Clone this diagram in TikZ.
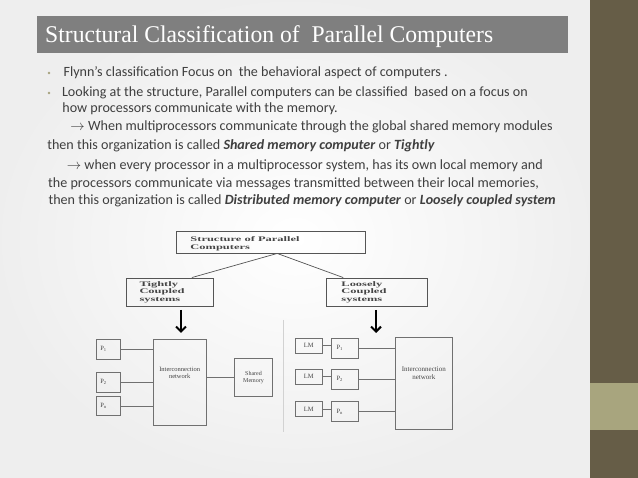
\documentclass[tikz,border=0pt]{standalone}
\usepackage{fontspec}
\usepackage{graphicx}
\setmainfont{Carlito}
\newfontfamily\titlefont{Liberation Serif}
\newfontfamily\diagfont[FakeStretch=1.78]{Liberation Serif}
\newfontfamily\labfont{Liberation Serif}
\usetikzlibrary{arrows.meta}
\definecolor{barbrown}{HTML}{665D47}
\definecolor{barlight}{HTML}{A8A57E}
\definecolor{titlegray}{HTML}{7F7F7F}
\definecolor{bodytext}{HTML}{3F3F3F}
\definecolor{bulletc}{HTML}{A6A27E}
\definecolor{dline}{HTML}{555555}
\definecolor{pline}{HTML}{707070}
\definecolor{ptext}{HTML}{454545}
\begin{document}
\begin{tikzpicture}[x=1pt,y=-1pt,
  body/.style={anchor=base east, inner sep=0pt, font=\fontsize{14.1}{16}\selectfont, text=bodytext},
  dbox/.style={draw=dline, line width=0.9pt, inner sep=0pt},
  dtext/.style={align=left, inner sep=0pt, anchor=west,
    font=\diagfont\bfseries\fontsize{7}{7.6}\selectfont, text=ptext},
  pbox/.style={draw=pline, line width=0.6pt, inner sep=0pt, align=center,
    font=\labfont\fontsize{6.5}{7.5}\selectfont, text=ptext},
  lab/.style={align=center, inner sep=0pt, font=\labfont\fontsize{6.5}{7.7}\selectfont, text=ptext},
  conn/.style={draw=pline, line width=0.6pt},
  tree/.style={draw=dline, line width=0.7pt},
  bigarrow/.style={line width=2.2pt, -{Straight Barb[length=5pt,width=10pt,line width=2pt]}},
  bulletdot/.style={fill=bulletc}
]
\useasboundingbox (0,0) rectangle (638,478);
% background
\shade[inner color=white, outer color=gray!13] (0,0) rectangle (590,478);
\fill[barbrown] (590,0) rectangle (638,478);
\fill[barlight] (590,383) rectangle (638,430);
% title
\fill[titlegray] (37.3,16) rectangle (568.3,52.7);
\node[anchor=base west, inner sep=0pt, text=white] (title) at (45,42.3)
  {\resizebox{448pt}{\height}{\titlefont\fontsize{24}{24}\selectfont Structural Classification of\ \ Parallel Computers}};
% bullets
\fill[bulletdot] (49,73) circle (1.4);
\fill[bulletdot] (49,93) circle (1.4);
% body text
\node[body] (l1) at (448,77) {Flynn’s classification Focus on\ \ the behavioral aspect of computers .};
\node[body] (l2) at (528,97) {Looking at the structure, Parallel computers can be classified\ \ based on a focus on};
\node[body] (l3) at (338,113) {how processors communicate with the memory.};
\node[body] (l4) at (553,131) {$\rightarrow$ When multiprocessors communicate through the global shared memory modules};
\node[body] (l5) at (435,150) {then this organization is called \textbf{\textit{Shared memory computer}} or \textbf{\textit{Tightly}}};
\node[body] (l6) at (543,170) {$\rightarrow$ when every processor in a multiprocessor system, has its own local memory and};
\node[body] (l7) at (539,188) {the processors communicate via messages transmitted between their local memories,};
\node[body] (l8) at (556,205) {then this organization is called \textbf{\textit{Distributed memory computer}} or \textbf{\textit{Loosely coupled system}}};
% tree
\node[dbox, minimum width=189, minimum height=22,
  label={[dtext, xshift=14pt, yshift=-1.5pt]west:{Structure of Parallel\\Computers}}] (top) at (271.2,242) {};
\node[dbox, minimum width=86.3, minimum height=28,
  label={[dtext, xshift=13pt]west:{Tightly\\Coupled\\systems}}] (tight) at (169.9,292) {};
\node[dbox, minimum width=101, minimum height=28,
  label={[dtext, xshift=15pt]west:{Loosely\\Coupled\\systems}}] (loose) at (377.2,292) {};
\draw[tree] ([xshift=6pt]top.south) -- ([xshift=22pt]tight.north);
\draw[tree] ([xshift=6pt]top.south) -- ([xshift=-34pt]loose.north);
\coordinate (ta) at (181,310);
\coordinate (tb) at (181,333);
\coordinate (la) at (376,310);
\coordinate (lb) at (376,333);
\draw[bigarrow] (ta) -- (tb);
\draw[bigarrow] (la) -- (lb);
% separator
\draw[gray!35, line width=0.6pt] (283,320) -- (283,432);
% left panel
\node[pbox, minimum width=24.7, minimum height=19.7, text width=16, align=left] (p1) at (108.3,349.2) {P\textsubscript{1}};
\node[pbox, minimum width=24.7, minimum height=19.3, text width=16, align=left] (p2) at (108.3,382.3) {P\textsubscript{2}};
\node[pbox, minimum width=24.7, minimum height=19, text width=16, align=left] (pn) at (108.3,406.2) {P\textsubscript{n}};
\node[pbox, minimum width=52.7, minimum height=86.4,
  label={[lab, yshift=9.5pt]center:Interconnection\\network}] (netl) at (179.7,382.5) {};
\node[pbox, minimum width=38.4, minimum height=38.4, font=\labfont\fontsize{6}{7.5}\selectfont] (sm) at (253.5,377.5) {Shared\\Memory};
\draw[conn] (p1.east) -- (p1.east -| netl.west);
\draw[conn] (p2.east) -- (p2.east -| netl.west);
\draw[conn] (pn.east) -- (pn.east -| netl.west);
\draw[conn] (netl.east |- sm.west) -- (sm.west);
% right panel
\node[pbox, minimum width=27.3, minimum height=15] (lm1) at (308.7,345.8) {LM};
\node[pbox, minimum width=27.3, minimum height=15] (lm2) at (308.7,376.8) {LM};
\node[pbox, minimum width=27.3, minimum height=15] (lm3) at (308.7,409.2) {LM};
\node[pbox, minimum width=26.6, minimum height=20, text width=17, align=left] (q1) at (345,348.3) {P\textsubscript{1}};
\node[pbox, minimum width=26.6, minimum height=19.7, text width=17, align=left] (q2) at (345,379.2) {P\textsubscript{2}};
\node[pbox, minimum width=26.6, minimum height=20, text width=17, align=left] (qn) at (345,411.7) {P\textsubscript{n}};
\node[pbox, minimum width=57.7, minimum height=91.7,
  label={[lab, yshift=10pt, font=\labfont\fontsize{7}{7.7}\selectfont]center:Interconnection\\network}] (netr) at (423.8,383.2) {};
\draw[conn] (lm1.east) -- (lm1.east -| q1.west);
\draw[conn] (lm2.east) -- (lm2.east -| q2.west);
\draw[conn] (lm3.east) -- (lm3.east -| qn.west);
\draw[conn] (q1.east) -- (q1.east -| netr.west);
\draw[conn] (q2.east) -- (q2.east -| netr.west);
\draw[conn] (qn.east) -- (qn.east -| netr.west);
\end{tikzpicture}
\end{document}
